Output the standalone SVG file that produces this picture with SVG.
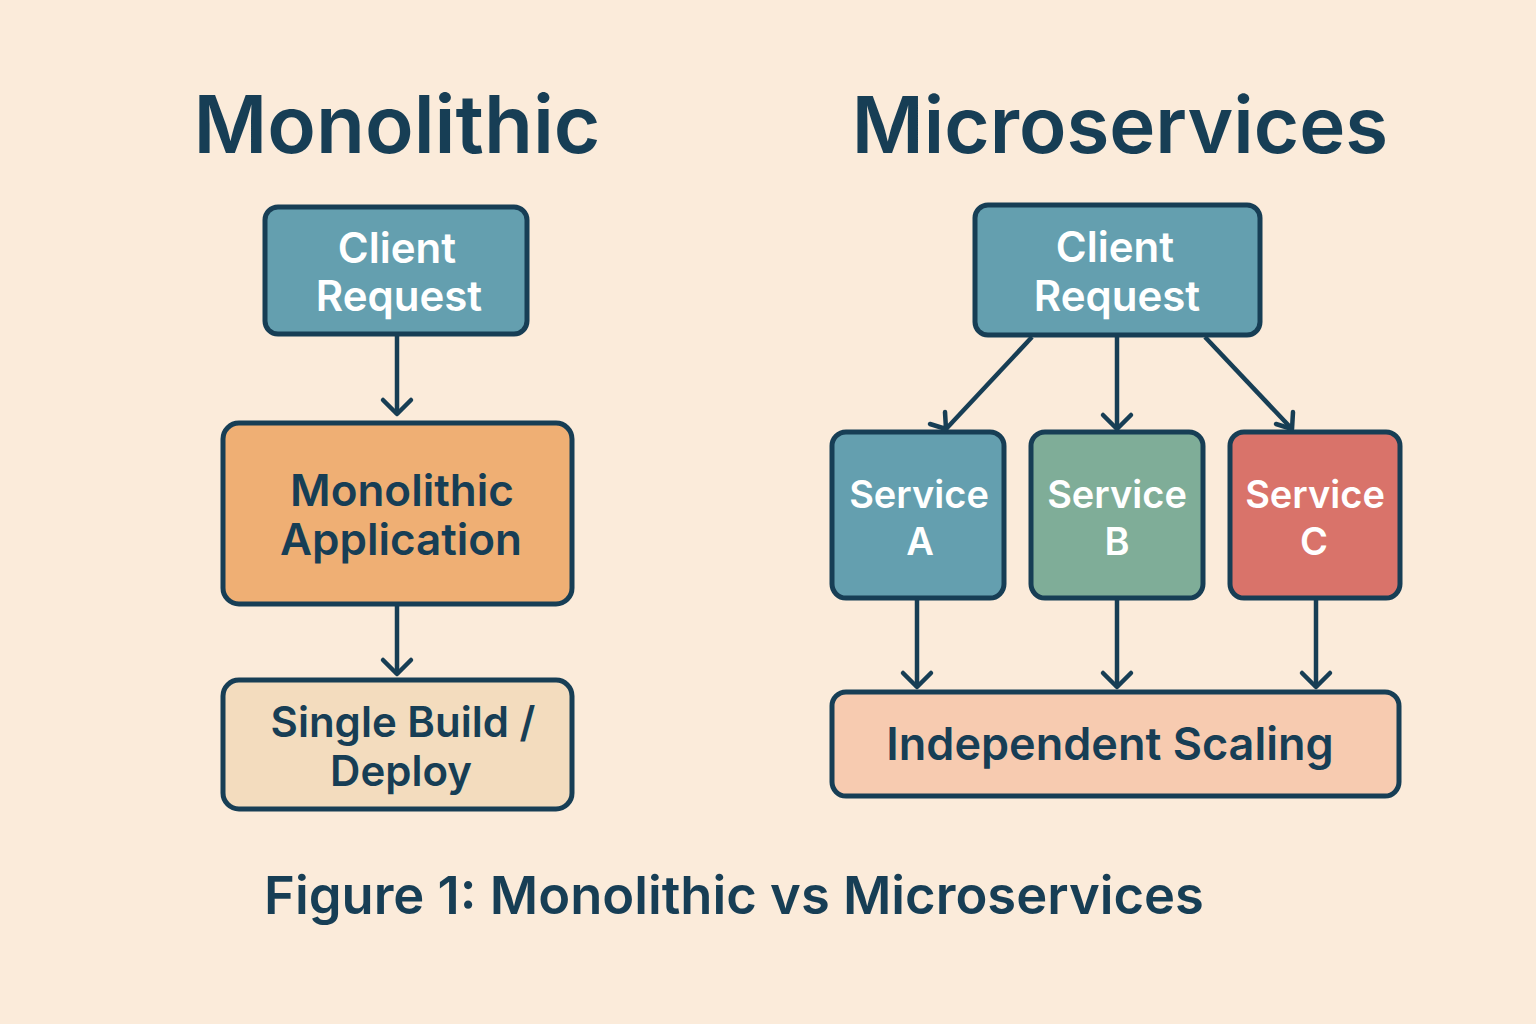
<svg xmlns="http://www.w3.org/2000/svg" width="1536" height="1024" viewBox="0 0 1536 1024">
<defs>
<style>
.box{stroke:#173E55;stroke-width:5}
.t{font-family:Inter,"Noto Sans","Liberation Sans",sans-serif;text-anchor:middle}
.w{fill:#FFFFFF;font-weight:600}
.d{fill:#173E55;font-weight:600}
.edge{stroke:#173E55;stroke-width:4.5;fill:none}
.head{stroke:#173E55;stroke-width:4.5;fill:none;stroke-linecap:round;stroke-linejoin:round}
</style>
</defs>
<rect width="1536" height="1024" fill="#FBEBDA"/>
<text class="t d" x="397" y="153" font-size="80">Monolithic</text>
<text class="t d" x="1120" y="153" font-size="78">Microservices</text>

<g id="m-client"><rect class="box" x="265" y="207" width="262" height="127" rx="13" fill="#649FAF"/><text class="t w" x="397" y="263" font-size="42">Client</text><text class="t w" x="399" y="311" font-size="42">Request</text></g>
<g id="m-app"><rect class="box" x="223" y="423" width="349" height="181" rx="16" fill="#EFAF74"/><text class="t d" x="402" y="506" font-size="44">Monolithic</text><text class="t d" x="401" y="555" font-size="44">Application</text></g>
<g id="m-deploy"><rect class="box" x="223" y="680" width="349" height="129" rx="16" fill="#F3DCBE"/><text class="t d" x="403" y="737" font-size="42">Single Build /</text><text class="t d" x="401" y="786" font-size="42">Deploy</text></g>

<g id="s-client"><rect class="box" x="975" y="205" width="285" height="130" rx="13" fill="#649FAF"/><text class="t w" x="1115" y="262" font-size="42">Client</text><text class="t w" x="1117" y="311" font-size="42">Request</text></g>
<g id="svc-a"><rect class="box" x="832" y="432" width="172" height="166" rx="14" fill="#649FAF"/><text class="t w" x="919" y="508" font-size="38">Service</text><text class="t w" x="920" y="555" font-size="38">A</text></g>
<g id="svc-b"><rect class="box" x="1031" y="432" width="172" height="166" rx="14" fill="#7FAD98"/><text class="t w" x="1117" y="508" font-size="38">Service</text><text class="t w" x="1117" y="555" font-size="38">B</text></g>
<g id="svc-c"><rect class="box" x="1230" y="432" width="170" height="166" rx="14" fill="#D9736A"/><text class="t w" x="1315" y="508" font-size="38">Service</text><text class="t w" x="1314" y="555" font-size="38">C</text></g>
<g id="scaling"><rect class="box" x="832" y="692" width="567" height="104" rx="14" fill="#F7CBB0"/><text class="t d" x="1110" y="760" font-size="45">Independent Scaling</text></g>

<g id="connectors">
<line class="edge" x1="397" y1="336" x2="397" y2="414"/><polyline class="head" points="383,400 397,414 411,400"/>
<line class="edge" x1="397" y1="606" x2="397" y2="674"/><polyline class="head" points="383,660 397,674 411,660"/>
<line class="edge" x1="1032" y1="337" x2="946" y2="429"/><polyline class="head" points="930,424 946,429 945,412"/>
<line class="edge" x1="1117" y1="337" x2="1117" y2="429"/><polyline class="head" points="1103,415 1117,429 1131,415"/>
<line class="edge" x1="1205" y1="337" x2="1292" y2="429"/><polyline class="head" points="1293,412 1292,429 1276,424"/>
<line class="edge" x1="917" y1="600" x2="917" y2="687"/><polyline class="head" points="903,673 917,687 931,673"/>
<line class="edge" x1="1117" y1="600" x2="1117" y2="687"/><polyline class="head" points="1103,673 1117,687 1131,673"/>
<line class="edge" x1="1316" y1="600" x2="1316" y2="687"/><polyline class="head" points="1302,673 1316,687 1330,673"/>
</g>

<text class="t d" x="734" y="914" font-size="52.5" font-weight="500">Figure 1: Monolithic vs Microservices</text>
</svg>
